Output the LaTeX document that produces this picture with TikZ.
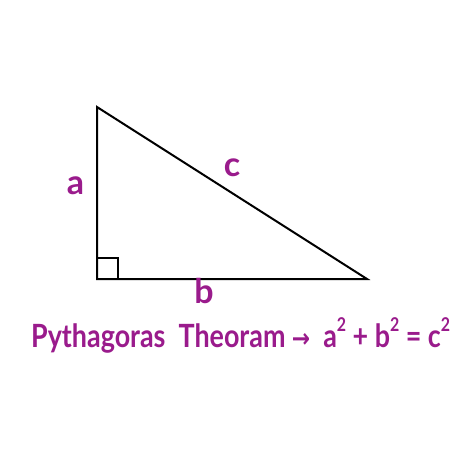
\documentclass[tikz,border=0pt]{standalone}
\usepackage{fontspec}
\setmainfont{Lato}
\newfontfamily\dejavu{DejaVu Sans}
\definecolor{hand}{HTML}{9A1B8C}
\newcommand{\sqmark}{\raisebox{0.5em}{\fontsize{19}{19}\selectfont 2}}
\begin{document}
\begin{tikzpicture}[x=1pt,y=-1pt,
  edge/.style={draw=black,line width=2pt,line join=miter},
  lbl/.style={text=hand,font=\bfseries\fontsize{34}{34}\selectfont,inner sep=0pt}]
\useasboundingbox[fill=white] (0,0) rectangle (474,474);
\coordinate (T) at (97,107);
\coordinate (L) at (97,279);
\coordinate (R) at (367,279);
\draw[edge] (T) -- (L) -- (R) -- cycle;
\draw[line width=1.6pt] (97,258) -- (118,258) -- (118,279);
\node[lbl] (la) at (75.5,186) {a};
\node[lbl] (lc) at (232,168) {c};
\node[lbl,anchor=base] (lb) at (204,303) {b};
\node[text=hand,font=\bfseries\fontsize{32}{32}\selectfont,inner sep=0pt,anchor=base west,xscale=0.84] (eq) at (31,347)
  {Pythagoras\ \ Theoram {\dejavu\fontsize{26}{26}\selectfont →}\ \ a\sqmark{} + b\sqmark{} = c\sqmark};
\end{tikzpicture}
\end{document}
